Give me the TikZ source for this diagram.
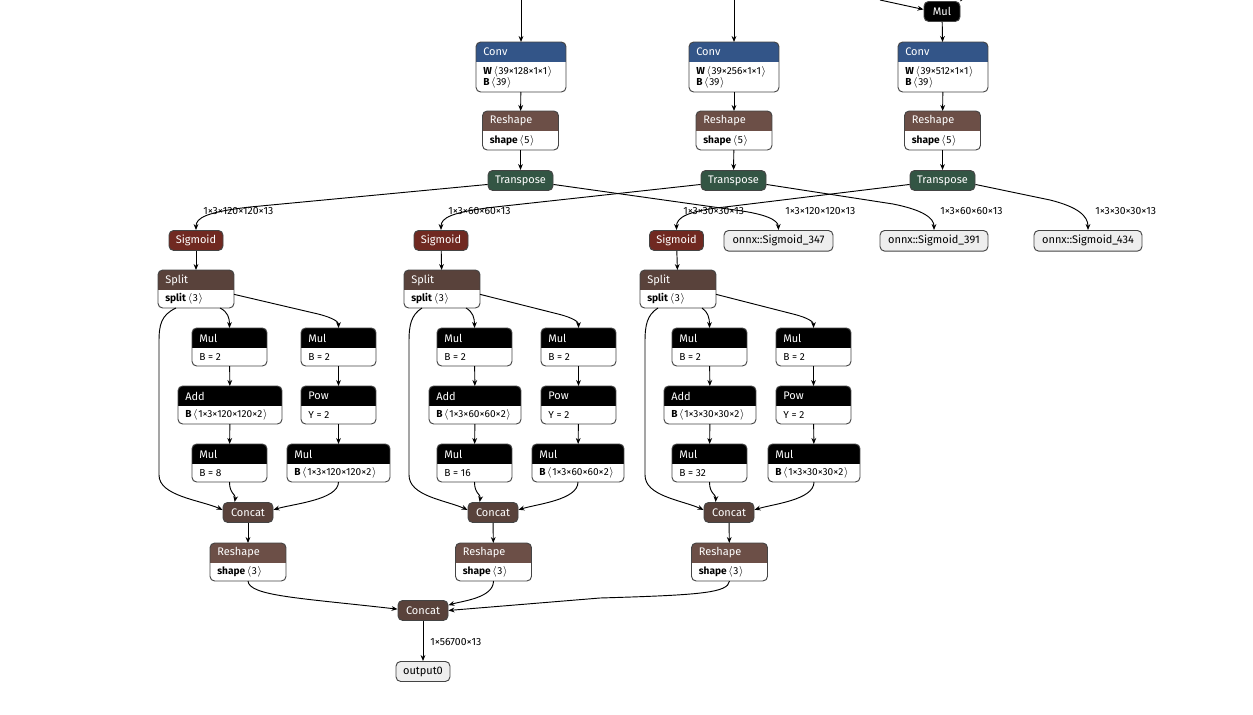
\documentclass[tikz,border=0pt]{standalone}
\usepackage{fontspec}
\setmainfont{Fira Sans}
\usetikzlibrary{arrows.meta}
\definecolor{clayer}{RGB}{51,85,136}
\definecolor{cshape}{RGB}{108,79,71}
\definecolor{ctensor}{RGB}{89,66,59}
\definecolor{ctrans}{RGB}{51,85,68}
\definecolor{cact}{RGB}{112,41,33}
\definecolor{cborder}{RGB}{68,68,68}
\definecolor{cio}{RGB}{238,238,238}
\newcommand\tsh[1]{\,\ensuremath{\langle}\kern0.5pt#1\kern0.5pt\ensuremath{\rangle}}
\tikzset{
  opbox/.style={draw=none, inner sep=0pt, outer sep=0pt},
  boxline/.style={draw=cborder, line width=0.7pt},
  ttl/.style={text=white, font=\fontsize{8.25}{10}\selectfont, inner sep=0pt},
  attr/.style={text=black, font=\fontsize{7.6}{9}\selectfont, inner sep=0pt, align=left},
  hdr/.style={draw=cborder, line width=0.7pt, rounded corners=3.5pt, inner sep=0pt, text=white, font=\fontsize{8.25}{10}\selectfont},
  ionode/.style={draw=cborder, fill=cio, line width=0.7pt, rounded corners=3.5pt, inner sep=0pt, text=black, font=\fontsize{8.25}{10}\selectfont},
  elabel/.style={font=\fontsize{7.8}{9}\selectfont, inner sep=0pt, anchor=west},
  edge/.style={draw=black, line width=0.7pt, -{Stealth[length=4.5pt,width=3.6pt]}},
}
% name, cx, ytop, w, h, color, title, body
\newcommand\bnode[8]{%
  \node[opbox, minimum width=#4*0.75pt, minimum height=#5*0.75pt, anchor=north] (#1) at (#2,#3) {};
  \begin{scope}
    \clip[rounded corners=3.5pt] (#1.north west) rectangle (#1.south east);
    \fill[white] (#1.north west) rectangle (#1.south east);
    \fill[#6] (#1.north west) rectangle ([yshift=-15pt]#1.north east);
  \end{scope}
  \draw[boxline, rounded corners=3.5pt] (#1.north west) rectangle (#1.south east);
  \node[ttl, anchor=west] (#1-t) at (#2-#4/2+7,#3+10) {#7};
  \node[attr, anchor=west] (#1-b) at (#2-#4/2+7,#3+20+#5/2-10) {#8};
}
% name, cx, ytop, w, color, title
\newcommand\hnode[6]{%
  \node[hdr, fill=#5, minimum width=#4*0.75pt, minimum height=15pt, anchor=north] (#1) at (#2,#3) {#6};
}
\begin{document}
\begin{tikzpicture}[x=0.75pt,y=-0.75pt]
\useasboundingbox (0,0) rectangle (1253,714);
\fill[white] (0,0) rectangle (1253,714);

% top row
\hnode{mul0}{942}{1}{36}{black}{Mul}
\bnode{conv1}{521}{42}{90}{50}{clayer}{Conv}{\textbf{W}\tsh{39×128×1×1}\\[-0.5pt]\textbf{B}\tsh{39}}
\bnode{conv2}{734}{42}{90}{50}{clayer}{Conv}{\textbf{W}\tsh{39×256×1×1}\\[-0.5pt]\textbf{B}\tsh{39}}
\bnode{conv3}{943}{42}{90}{50}{clayer}{Conv}{\textbf{W}\tsh{39×512×1×1}\\[-0.5pt]\textbf{B}\tsh{39}}
\bnode{rs1}{520.5}{111}{76}{39}{cshape}{Reshape}{\textbf{shape}\tsh{5}}
\bnode{rs2}{734}{111}{76}{39}{cshape}{Reshape}{\textbf{shape}\tsh{5}}
\bnode{rs3}{942.5}{111}{76}{39}{cshape}{Reshape}{\textbf{shape}\tsh{5}}
\hnode{tr1}{520.5}{170}{65}{ctrans}{Transpose}
\hnode{tr2}{733.5}{170}{65}{ctrans}{Transpose}
\hnode{tr3}{942.5}{170}{65}{ctrans}{Transpose}

\hnode{sig1}{196}{230}{54}{cact}{Sigmoid}
\hnode{sig2}{441}{230}{54}{cact}{Sigmoid}
\hnode{sig3}{676.5}{230}{54}{cact}{Sigmoid}
\node[ionode, minimum width=109*0.75pt, minimum height=15.5pt, anchor=north] (o347) at (778.5,230) {onnx::Sigmoid\_347};
\node[ionode, minimum width=108*0.75pt, minimum height=15.5pt, anchor=north] (o391) at (934,230) {onnx::Sigmoid\_391};
\node[ionode, minimum width=108*0.75pt, minimum height=15.5pt, anchor=north] (o434) at (1088,230) {onnx::Sigmoid\_434};

% branches
\bnode{sp1}{196}{270}{76}{38}{ctensor}{Split}{\textbf{split}\tsh{3}}
\bnode{sp2}{442}{270}{76}{38}{ctensor}{Split}{\textbf{split}\tsh{3}}
\bnode{sp3}{678}{270}{76}{38}{ctensor}{Split}{\textbf{split}\tsh{3}}

\bnode{ma1}{229.5}{328}{75}{38}{black}{Mul}{B = 2}
\bnode{ma2}{474.5}{328}{75}{38}{black}{Mul}{B = 2}
\bnode{ma3}{709.5}{328}{75}{38}{black}{Mul}{B = 2}
\bnode{mb1}{338.5}{328}{75}{38}{black}{Mul}{B = 2}
\bnode{mb2}{578.5}{328}{75}{38}{black}{Mul}{B = 2}
\bnode{mb3}{813.5}{328}{75}{38}{black}{Mul}{B = 2}

\bnode{add1}{230}{386}{104}{38}{black}{Add}{\textbf{B}\tsh{1×3×120×120×2}}
\bnode{add2}{475}{386}{92}{38}{black}{Add}{\textbf{B}\tsh{1×3×60×60×2}}
\bnode{add3}{710}{386}{92}{38}{black}{Add}{\textbf{B}\tsh{1×3×30×30×2}}
\bnode{pow1}{338.5}{386}{75}{38}{black}{Pow}{Y = 2}
\bnode{pow2}{578.5}{386}{75}{38}{black}{Pow}{Y = 2}
\bnode{pow3}{813.5}{386}{75}{38}{black}{Pow}{Y = 2}

\bnode{mc1}{229.5}{444}{75}{38}{black}{Mul}{B = 8}
\bnode{mc2}{474.5}{444}{75}{38}{black}{Mul}{B = 16}
\bnode{mc3}{709.5}{444}{75}{38}{black}{Mul}{B = 32}
\bnode{md1}{338.5}{444}{103}{38}{black}{Mul}{\textbf{B}\tsh{1×3×120×120×2}}
\bnode{md2}{578}{444}{92}{38}{black}{Mul}{\textbf{B}\tsh{1×3×60×60×2}}
\bnode{md3}{814}{444}{92}{38}{black}{Mul}{\textbf{B}\tsh{1×3×30×30×2}}

\hnode{cc1}{248}{502}{50}{ctensor}{Concat}
\hnode{cc2}{493}{502}{50}{ctensor}{Concat}
\hnode{cc3}{729}{502}{50}{ctensor}{Concat}

\bnode{rb1}{248}{543}{76}{38}{cshape}{Reshape}{\textbf{shape}\tsh{3}}
\bnode{rb2}{493.5}{543}{76}{38}{cshape}{Reshape}{\textbf{shape}\tsh{3}}
\bnode{rb3}{729.5}{543}{76}{38}{cshape}{Reshape}{\textbf{shape}\tsh{3}}

\hnode{fc}{423}{600}{50}{ctensor}{Concat}
\node[ionode, minimum width=54*0.75pt, minimum height=15pt, anchor=north] (out0) at (423,661) {output0};

% ---------- edges
\coordinate (in1) at (521,0);
\coordinate (in2) at (734,0);
\coordinate (in3) at (880,0);
\coordinate (in4) at (964,-2);
\draw[edge] (in1) -- (conv1);
\draw[edge] (in2) -- (conv2);
\draw[edge] (in3) -- ([yshift=1.5pt]mul0.west);
\draw[line width=0.7pt] (in4) -- (mul0.north east);
\draw[edge] (mul0) -- (conv3);
\foreach \i in {1,2,3}{
  \draw[edge] (conv\i) -- (rs\i);
  \draw[edge] (rs\i) -- (tr\i);
}
\draw[edge] ([yshift=-3pt]tr1.west) -- (250,207) .. controls (206,212) and (196,218) .. (sig1.north);
\draw[edge] ([yshift=-3pt]tr1.east) -- (735,210) .. controls (766,214) and (778,220) .. (o347.north);
\draw[edge] ([yshift=-3pt]tr2.west) -- (495,207) .. controls (451,212) and (441,218) .. (sig2.north);
\draw[edge] ([yshift=-3pt]tr2.east) -- (893,204) .. controls (923,210) and (934,218) .. (o391.north);
\draw[edge] ([yshift=-3pt]tr3.west) -- (725,207) .. controls (686,211) and (676.5,218) .. (sig3.north);
\draw[edge] ([yshift=-3pt]tr3.east) -- (1050,200) .. controls (1078,207) and (1088,216) .. (o434.north);

\node[elabel] (l1) at (203,211) {1×3×120×120×13};
\node[elabel] (l2) at (448,211) {1×3×60×60×13};
\node[elabel] (l3) at (683,211) {1×3×30×30×13};
\node[elabel] (l4) at (785,211) {1×3×120×120×13};
\node[elabel] (l5) at (940,211) {1×3×60×60×13};
\node[elabel] (l6) at (1095,211) {1×3×30×30×13};

\foreach \i in {1,2,3}{
  \draw[edge] (sig\i) -- (sp\i);
  \draw[edge] (ma\i) -- (add\i);
  \draw[edge] (add\i) -- (mc\i);
  \draw[edge] (mb\i) -- (pow\i);
  \draw[edge] (pow\i) -- (md\i);
  \draw[edge] (cc\i) -- (rb\i);
}
% split edges
\draw[edge] ([xshift=-15pt]sp1.south) .. controls (161,315) and (159,325) .. (159,342) -- (159,475) .. controls (159,496) and (200,500) .. ([yshift=2pt]cc1.west);
\draw[edge] ([xshift=18pt]sp1.south) .. controls (228,312) and (229.5,318) .. (ma1.north);
\draw[edge] ([yshift=-4pt]sp1.east) -- (318,314) .. controls (334,318) and (338.5,322) .. (mb1.north);
\draw[edge] ([xshift=-15pt]sp2.south) .. controls (411,315) and (409,325) .. (409,342) -- (409,475) .. controls (409,496) and (445,500) .. ([yshift=2pt]cc2.west);
\draw[edge] ([xshift=18pt]sp2.south) .. controls (473,312) and (474.5,318) .. (ma2.north);
\draw[edge] ([yshift=-4pt]sp2.east) -- (558,314) .. controls (574,318) and (578.5,322) .. (mb2.north);
\draw[edge] ([xshift=-15pt]sp3.south) .. controls (647,315) and (645,325) .. (645,342) -- (645,475) .. controls (645,496) and (681,500) .. ([yshift=2pt]cc3.west);
\draw[edge] ([xshift=18pt]sp3.south) .. controls (708,312) and (709.5,318) .. (ma3.north);
\draw[edge] ([yshift=-4pt]sp3.east) -- (793,314) .. controls (809,318) and (813.5,322) .. (mb3.north);
% into concats
\draw[edge] (mc1.south) .. controls (229.5,494) and (236,494) .. ([xshift=-10pt]cc1.north);
\draw[edge] (md1.south) .. controls (338.5,500) and (292,504) .. ([yshift=2pt]cc1.east);
\draw[edge] (mc2.south) .. controls (474.5,494) and (481,494) .. ([xshift=-10pt]cc2.north);
\draw[edge] (md2.south) .. controls (578,500) and (537,504) .. ([yshift=2pt]cc2.east);
\draw[edge] (mc3.south) .. controls (709.5,494) and (716,494) .. ([xshift=-10pt]cc3.north);
\draw[edge] (md3.south) .. controls (814,500) and (773,504) .. ([yshift=2pt]cc3.east);
% into final concat
\draw[edge] (rb1.south) .. controls (249,596) and (300,598) .. ([yshift=1pt]fc.west);
\draw[edge] (rb2.south) .. controls (493.5,598) and (462,601) .. ([yshift=4pt]fc.east);
\draw[edge] (rb3.south) .. controls (728,593) and (700,595) .. (600,598) -- ([yshift=0pt]fc.east);
\draw[edge] (fc) -- (out0);
\node[elabel] (l7) at (430,642) {1×56700×13};
\end{tikzpicture}
\end{document}
